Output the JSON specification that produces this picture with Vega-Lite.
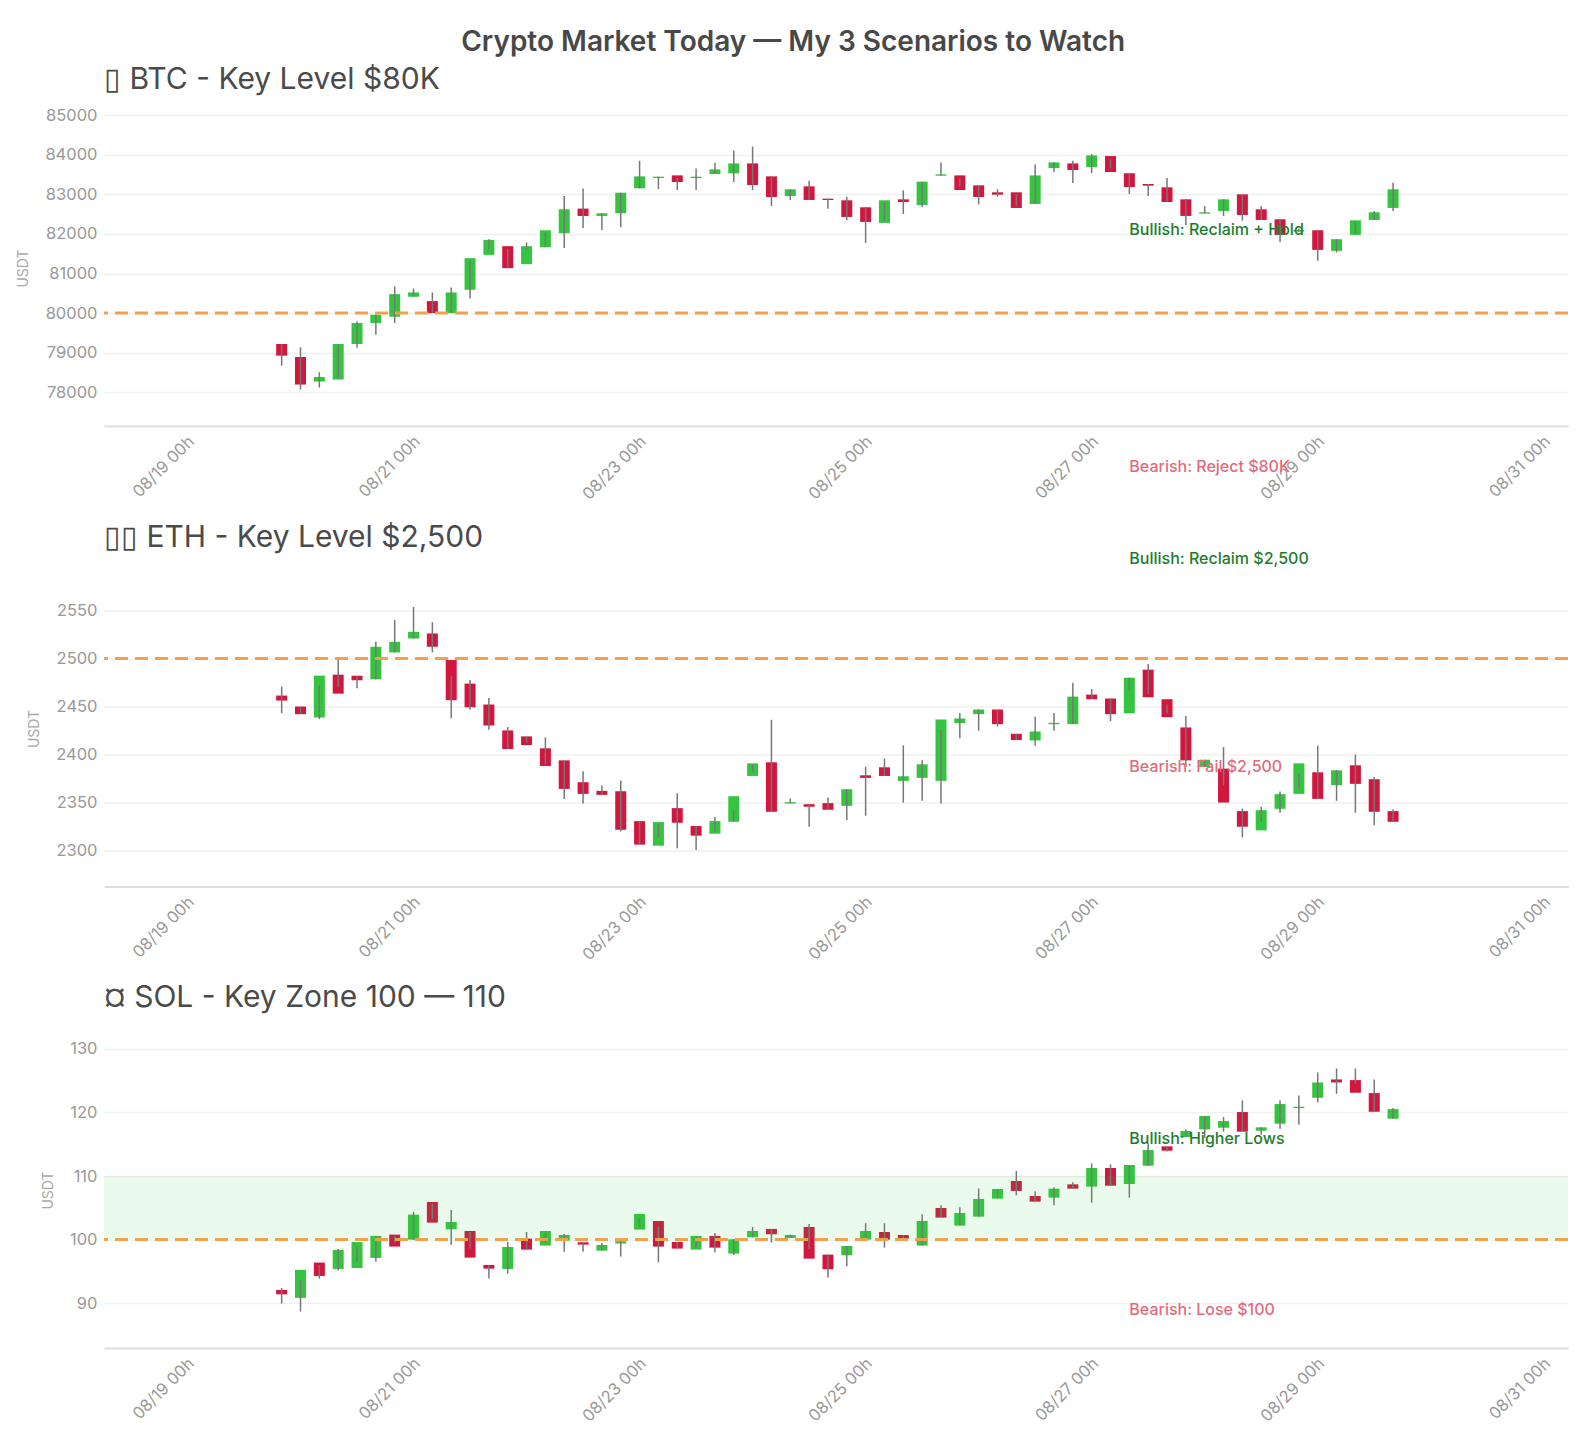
{
  "$schema": "https://vega.github.io/schema/vega-lite/v6.json",
  "padding": {"left": 16, "top": 29, "right": 8, "bottom": 5},
  "background": "white",
  "title": {"text": "Crypto Market Today — My 3 Scenarios to Watch", "fontSize": 28, "fontWeight": 600, "color": "#484848", "font": "Inter", "anchor": "middle", "frame": "bounds", "offset": 8},
  "config": {
    "view": {"stroke": null},
    "font": "Inter",
    "axis": {"labelFont": "Inter", "labelColor": "#999", "labelFontSize": 16.5, "titleFont": "Inter", "titleColor": "#aaa", "titleFontSize": 14, "titleFontWeight": "normal", "gridColor": "#f0f0f0", "gridWidth": 1.5, "domain": false, "ticks": false},
    "axisX": {"domain": true, "domainColor": "#ddd", "domainWidth": 2, "grid": false, "labelPadding": 7, "labelOffset": -11.5},
    "axisY": {"labelPadding": 7, "titlePadding": 14},
    "title": {"anchor": "start", "frame": "group", "fontSize": 30, "fontWeight": "normal", "color": "#4a4a4a", "font": "Inter", "offset": 12}
  },
  "datasets": {
    "btc": [
      {"t":"2025-08-19T18:00","o":79219,"h":79219,"l":78673,"c":78925},
      {"t":"2025-08-19T22:00","o":78891,"h":79135,"l":78068,"c":78194},
      {"t":"2025-08-20T02:00","o":78270,"h":78505,"l":78118,"c":78387},
      {"t":"2025-08-20T06:00","o":78320,"h":79200,"l":78340,"c":79219},
      {"t":"2025-08-20T10:00","o":79219,"h":79790,"l":79127,"c":79748},
      {"t":"2025-08-20T14:00","o":79748,"h":79959,"l":79454,"c":79959},
      {"t":"2025-08-20T18:00","o":79908,"h":80673,"l":79748,"c":80479},
      {"t":"2025-08-20T22:00","o":80412,"h":80622,"l":80412,"c":80521},
      {"t":"2025-08-21T02:00","o":80303,"h":80521,"l":80000,"c":80000},
      {"t":"2025-08-21T06:00","o":80000,"h":80647,"l":80000,"c":80521},
      {"t":"2025-08-21T10:00","o":80589,"h":81320,"l":80370,"c":81387},
      {"t":"2025-08-21T14:00","o":81471,"h":81866,"l":81614,"c":81849},
      {"t":"2025-08-21T18:00","o":81690,"h":81614,"l":81135,"c":81135},
      {"t":"2025-08-21T22:00","o":81236,"h":81782,"l":81597,"c":81690},
      {"t":"2025-08-22T02:00","o":81664,"h":82034,"l":81664,"c":82093},
      {"t":"2025-08-22T06:00","o":82017,"h":82958,"l":81647,"c":82622},
      {"t":"2025-08-22T10:00","o":82639,"h":83145,"l":82152,"c":82454},
      {"t":"2025-08-22T14:00","o":82454,"h":82521,"l":82101,"c":82521},
      {"t":"2025-08-22T18:00","o":82521,"h":83042,"l":82169,"c":83042},
      {"t":"2025-08-22T22:00","o":83152,"h":83849,"l":83152,"c":83454},
      {"t":"2025-08-23T02:00","o":83412,"h":83446,"l":83135,"c":83446},
      {"t":"2025-08-23T06:00","o":83479,"h":83412,"l":83110,"c":83311},
      {"t":"2025-08-23T10:00","o":83412,"h":83656,"l":83110,"c":83446},
      {"t":"2025-08-23T14:00","o":83513,"h":83799,"l":83513,"c":83631},
      {"t":"2025-08-23T18:00","o":83530,"h":84110,"l":83311,"c":83782},
      {"t":"2025-08-23T22:00","o":83782,"h":84210,"l":83110,"c":83236},
      {"t":"2025-08-24T02:00","o":83454,"h":83454,"l":82706,"c":82933},
      {"t":"2025-08-24T06:00","o":82958,"h":83127,"l":82858,"c":83127},
      {"t":"2025-08-24T10:00","o":83202,"h":83345,"l":82858,"c":82858},
      {"t":"2025-08-24T14:00","o":82891,"h":82891,"l":82639,"c":82858},
      {"t":"2025-08-24T18:00","o":82849,"h":82942,"l":82353,"c":82429},
      {"t":"2025-08-24T22:00","o":82673,"h":82673,"l":81774,"c":82303},
      {"t":"2025-08-25T02:00","o":82278,"h":82800,"l":82320,"c":82849},
      {"t":"2025-08-25T06:00","o":82874,"h":83101,"l":82505,"c":82807},
      {"t":"2025-08-25T10:00","o":82731,"h":83320,"l":82681,"c":83320},
      {"t":"2025-08-25T14:00","o":83471,"h":83807,"l":83471,"c":83505},
      {"t":"2025-08-25T18:00","o":83479,"h":83400,"l":83200,"c":83110},
      {"t":"2025-08-25T22:00","o":83227,"h":83227,"l":82748,"c":82933},
      {"t":"2025-08-26T02:00","o":83051,"h":83127,"l":82942,"c":82992},
      {"t":"2025-08-26T06:00","o":83051,"h":83000,"l":82700,"c":82656},
      {"t":"2025-08-26T10:00","o":82757,"h":83757,"l":82757,"c":83479},
      {"t":"2025-08-26T14:00","o":83664,"h":83807,"l":83563,"c":83807},
      {"t":"2025-08-26T18:00","o":83782,"h":83849,"l":83286,"c":83614},
      {"t":"2025-08-26T22:00","o":83690,"h":84017,"l":83538,"c":83984},
      {"t":"2025-08-27T02:00","o":83967,"h":83900,"l":83650,"c":83563},
      {"t":"2025-08-27T06:00","o":83530,"h":83530,"l":83009,"c":83185},
      {"t":"2025-08-27T10:00","o":83261,"h":83261,"l":82958,"c":83219},
      {"t":"2025-08-27T14:00","o":83177,"h":83412,"l":82807,"c":82807},
      {"t":"2025-08-27T18:00","o":82874,"h":82874,"l":82227,"c":82454},
      {"t":"2025-08-27T22:00","o":82513,"h":82706,"l":82513,"c":82547},
      {"t":"2025-08-28T02:00","o":82580,"h":82874,"l":82454,"c":82874},
      {"t":"2025-08-28T06:00","o":83000,"h":83000,"l":82336,"c":82479},
      {"t":"2025-08-28T10:00","o":82622,"h":82698,"l":82353,"c":82353},
      {"t":"2025-08-28T14:00","o":82370,"h":82370,"l":81799,"c":81975},
      {"t":"2025-08-28T18:00","o":82060,"h":82130,"l":82040,"c":82100},
      {"t":"2025-08-28T22:00","o":82093,"h":82093,"l":81320,"c":81597},
      {"t":"2025-08-29T02:00","o":81572,"h":81866,"l":81530,"c":81866},
      {"t":"2025-08-29T06:00","o":81975,"h":82300,"l":82000,"c":82345},
      {"t":"2025-08-29T10:00","o":82353,"h":82580,"l":82353,"c":82547},
      {"t":"2025-08-29T14:00","o":82656,"h":83294,"l":82580,"c":83127}
    ],
    "eth": [
      {"t":"2025-08-19T18:00","o":2461.4,"h":2470.7,"l":2443.1,"c":2456.2},
      {"t":"2025-08-19T22:00","o":2450,"h":2450,"l":2443,"c":2442.1},
      {"t":"2025-08-20T02:00","o":2438.6,"h":2472.4,"l":2436.9,"c":2482.1},
      {"t":"2025-08-20T06:00","o":2483.1,"h":2500.7,"l":2470,"c":2463.4},
      {"t":"2025-08-20T10:00","o":2482.1,"h":2482.1,"l":2469,"c":2477.2},
      {"t":"2025-08-20T14:00","o":2478.3,"h":2517.2,"l":2478.3,"c":2512.1},
      {"t":"2025-08-20T18:00","o":2506.2,"h":2540,"l":2506.2,"c":2517.2},
      {"t":"2025-08-20T22:00","o":2520.7,"h":2553.4,"l":2520.7,"c":2527.6},
      {"t":"2025-08-21T02:00","o":2525.9,"h":2537.6,"l":2506.2,"c":2512.1},
      {"t":"2025-08-21T06:00","o":2498.3,"h":2482.1,"l":2437.9,"c":2456.6},
      {"t":"2025-08-21T10:00","o":2473.8,"h":2477.6,"l":2446.6,"c":2449.3},
      {"t":"2025-08-21T14:00","o":2452.1,"h":2459,"l":2425.9,"c":2430.3},
      {"t":"2025-08-21T18:00","o":2425.2,"h":2428.6,"l":2405.9,"c":2405.9},
      {"t":"2025-08-21T22:00","o":2419,"h":2419,"l":2412,"c":2410},
      {"t":"2025-08-22T02:00","o":2406.6,"h":2417.9,"l":2390,"c":2388.3},
      {"t":"2025-08-22T06:00","o":2394.1,"h":2394,"l":2354.1,"c":2364.5},
      {"t":"2025-08-22T10:00","o":2371.4,"h":2382.8,"l":2349.3,"c":2359.3},
      {"t":"2025-08-22T14:00","o":2362.4,"h":2367.9,"l":2358.3,"c":2358.3},
      {"t":"2025-08-22T18:00","o":2362.1,"h":2373.1,"l":2320.3,"c":2322.1},
      {"t":"2025-08-22T22:00","o":2331,"h":2331,"l":2306.6,"c":2306.6},
      {"t":"2025-08-23T02:00","o":2305.5,"h":2328,"l":2314,"c":2330},
      {"t":"2025-08-23T06:00","o":2344.5,"h":2360,"l":2302.8,"c":2329.3},
      {"t":"2025-08-23T10:00","o":2325.9,"h":2325.9,"l":2301,"c":2315.9},
      {"t":"2025-08-23T14:00","o":2317.9,"h":2335.2,"l":2320,"c":2331},
      {"t":"2025-08-23T18:00","o":2330.3,"h":2342,"l":2330.3,"c":2356.9},
      {"t":"2025-08-23T22:00","o":2377.9,"h":2390,"l":2382,"c":2391},
      {"t":"2025-08-24T02:00","o":2392.1,"h":2436.2,"l":2340.7,"c":2340.7},
      {"t":"2025-08-24T06:00","o":2349.3,"h":2354.5,"l":2349.3,"c":2350.7},
      {"t":"2025-08-24T10:00","o":2348.6,"h":2348.6,"l":2325.2,"c":2345.9},
      {"t":"2025-08-24T14:00","o":2349.7,"h":2355.5,"l":2342.8,"c":2342.8},
      {"t":"2025-08-24T18:00","o":2346.9,"h":2364.1,"l":2332.1,"c":2364.1},
      {"t":"2025-08-24T22:00","o":2378.6,"h":2387.6,"l":2336.6,"c":2375.9},
      {"t":"2025-08-25T02:00","o":2386.9,"h":2395.9,"l":2377.9,"c":2377.9},
      {"t":"2025-08-25T06:00","o":2372.8,"h":2409.7,"l":2350.3,"c":2377.6},
      {"t":"2025-08-25T10:00","o":2375.9,"h":2394.1,"l":2352.1,"c":2390},
      {"t":"2025-08-25T14:00","o":2372.8,"h":2426.2,"l":2349.3,"c":2436.6},
      {"t":"2025-08-25T18:00","o":2432.8,"h":2443.4,"l":2417.2,"c":2437.6},
      {"t":"2025-08-25T22:00","o":2442.1,"h":2446.9,"l":2424.8,"c":2446.9},
      {"t":"2025-08-26T02:00","o":2446.9,"h":2446.9,"l":2429.3,"c":2431.7},
      {"t":"2025-08-26T06:00","o":2421.7,"h":2421.7,"l":2415.2,"c":2415.2},
      {"t":"2025-08-26T10:00","o":2414.8,"h":2439.3,"l":2409.3,"c":2424.1},
      {"t":"2025-08-26T14:00","o":2431.7,"h":2443.4,"l":2424.8,"c":2433.1},
      {"t":"2025-08-26T18:00","o":2431.7,"h":2474.8,"l":2432,"c":2460.3},
      {"t":"2025-08-26T22:00","o":2462.4,"h":2468.3,"l":2457.6,"c":2457.6},
      {"t":"2025-08-27T02:00","o":2458.3,"h":2458.3,"l":2434.8,"c":2442.1},
      {"t":"2025-08-27T06:00","o":2443.1,"h":2480,"l":2466,"c":2480},
      {"t":"2025-08-27T10:00","o":2488.3,"h":2494.1,"l":2463,"c":2459.7},
      {"t":"2025-08-27T14:00","o":2457.6,"h":2452,"l":2443,"c":2439},
      {"t":"2025-08-27T18:00","o":2428.3,"h":2440.3,"l":2387.2,"c":2394.1},
      {"t":"2025-08-27T22:00","o":2387.2,"h":2394.8,"l":2387.2,"c":2394.8},
      {"t":"2025-08-28T02:00","o":2385.5,"h":2407.9,"l":2368,"c":2350.3},
      {"t":"2025-08-28T06:00","o":2341.4,"h":2344.1,"l":2314.1,"c":2325.2},
      {"t":"2025-08-28T10:00","o":2321.4,"h":2345.9,"l":2330,"c":2342.4},
      {"t":"2025-08-28T14:00","o":2343.8,"h":2361.7,"l":2339.7,"c":2359},
      {"t":"2025-08-28T18:00","o":2359.3,"h":2380,"l":2365,"c":2391},
      {"t":"2025-08-28T22:00","o":2381.7,"h":2409.3,"l":2354.1,"c":2354.1},
      {"t":"2025-08-29T02:00","o":2368.3,"h":2383.8,"l":2352.1,"c":2383.8},
      {"t":"2025-08-29T06:00","o":2389,"h":2400.3,"l":2339.7,"c":2369.7},
      {"t":"2025-08-29T10:00","o":2374.5,"h":2376.9,"l":2326.6,"c":2340.7},
      {"t":"2025-08-29T14:00","o":2341.4,"h":2343.4,"l":2330.3,"c":2330.3}
    ],
    "sol": [
      {"t":"2025-08-19T18:00","o":92.1,"h":92.4,"l":89.95,"c":91.4},
      {"t":"2025-08-19T22:00","o":90.84,"h":93.6,"l":88.69,"c":95.24},
      {"t":"2025-08-20T02:00","o":96.39,"h":96,"l":93.87,"c":94.29},
      {"t":"2025-08-20T06:00","o":95.39,"h":98.53,"l":95.13,"c":98.38},
      {"t":"2025-08-20T10:00","o":95.55,"h":99,"l":96.5,"c":99.63},
      {"t":"2025-08-20T14:00","o":97.12,"h":100.58,"l":96.54,"c":100.58},
      {"t":"2025-08-20T18:00","o":100.79,"h":100.5,"l":99.5,"c":98.9},
      {"t":"2025-08-20T22:00","o":100,"h":104.35,"l":100,"c":103.93},
      {"t":"2025-08-21T02:00","o":105.92,"h":105.6,"l":103.2,"c":102.67},
      {"t":"2025-08-21T06:00","o":101.62,"h":104.66,"l":99.21,"c":102.77},
      {"t":"2025-08-21T10:00","o":101.36,"h":101.2,"l":98.6,"c":97.17},
      {"t":"2025-08-21T14:00","o":96.02,"h":96.02,"l":93.87,"c":95.44},
      {"t":"2025-08-21T18:00","o":95.39,"h":99.63,"l":94.66,"c":98.85},
      {"t":"2025-08-21T22:00","o":100.16,"h":101.2,"l":98.43,"c":98.43},
      {"t":"2025-08-22T02:00","o":99.06,"h":101,"l":99.5,"c":101.36},
      {"t":"2025-08-22T06:00","o":99.84,"h":100.89,"l":98.11,"c":100.73},
      {"t":"2025-08-22T10:00","o":99.58,"h":99.58,"l":98.11,"c":99.21},
      {"t":"2025-08-22T14:00","o":98.27,"h":99.48,"l":98.27,"c":99.16},
      {"t":"2025-08-22T18:00","o":99.37,"h":99.74,"l":97.33,"c":99.74},
      {"t":"2025-08-22T22:00","o":101.57,"h":103.5,"l":102,"c":104.03},
      {"t":"2025-08-23T02:00","o":102.93,"h":102,"l":96.44,"c":98.9},
      {"t":"2025-08-23T06:00","o":99.63,"h":99.63,"l":98.59,"c":98.59},
      {"t":"2025-08-23T10:00","o":98.43,"h":100.4,"l":98.8,"c":100.58},
      {"t":"2025-08-23T14:00","o":100.58,"h":101.05,"l":98.01,"c":98.74},
      {"t":"2025-08-23T18:00","o":97.8,"h":100.05,"l":97.59,"c":100.05},
      {"t":"2025-08-23T22:00","o":100.37,"h":101.99,"l":100.37,"c":101.36},
      {"t":"2025-08-24T02:00","o":101.68,"h":101.68,"l":99.53,"c":100.84},
      {"t":"2025-08-24T06:00","o":100.26,"h":100.8,"l":100.26,"c":100.73},
      {"t":"2025-08-24T10:00","o":101.99,"h":102.46,"l":98.5,"c":97.01},
      {"t":"2025-08-24T14:00","o":97.64,"h":97.64,"l":94.03,"c":95.34},
      {"t":"2025-08-24T18:00","o":97.54,"h":99,"l":95.81,"c":99},
      {"t":"2025-08-24T22:00","o":100,"h":102.57,"l":100,"c":101.36},
      {"t":"2025-08-25T02:00","o":101.2,"h":102.57,"l":98.74,"c":100},
      {"t":"2025-08-25T06:00","o":100.73,"h":100.73,"l":100.16,"c":100.16},
      {"t":"2025-08-25T10:00","o":99.06,"h":103.98,"l":99.06,"c":102.93},
      {"t":"2025-08-25T14:00","o":104.97,"h":105.39,"l":103.46,"c":103.46},
      {"t":"2025-08-25T18:00","o":102.2,"h":105.08,"l":102.2,"c":104.19},
      {"t":"2025-08-25T22:00","o":103.61,"h":108.06,"l":103.61,"c":106.39},
      {"t":"2025-08-26T02:00","o":106.44,"h":107.96,"l":106.44,"c":107.96},
      {"t":"2025-08-26T06:00","o":109.22,"h":110.79,"l":106.97,"c":107.65},
      {"t":"2025-08-26T10:00","o":106.86,"h":107.59,"l":105.97,"c":105.97},
      {"t":"2025-08-26T14:00","o":106.6,"h":108.22,"l":105.39,"c":108.01},
      {"t":"2025-08-26T18:00","o":108.69,"h":109.01,"l":108.01,"c":108.01},
      {"t":"2025-08-26T22:00","o":108.33,"h":111.99,"l":105.81,"c":111.26},
      {"t":"2025-08-27T02:00","o":111.26,"h":111.83,"l":108.48,"c":108.48},
      {"t":"2025-08-27T06:00","o":108.74,"h":111.73,"l":106.6,"c":111.73},
      {"t":"2025-08-27T10:00","o":111.62,"h":115.08,"l":111.62,"c":114.08},
      {"t":"2025-08-27T14:00","o":114.66,"h":114.66,"l":113.87,"c":113.98},
      {"t":"2025-08-27T18:00","o":116.13,"h":117.33,"l":116.13,"c":117.07},
      {"t":"2025-08-27T22:00","o":117.33,"h":119.43,"l":116.02,"c":119.43},
      {"t":"2025-08-28T02:00","o":117.59,"h":119.27,"l":116.97,"c":118.64},
      {"t":"2025-08-28T06:00","o":120.05,"h":121.89,"l":116.97,"c":116.97},
      {"t":"2025-08-28T10:00","o":117.12,"h":117.65,"l":116.49,"c":117.65},
      {"t":"2025-08-28T14:00","o":118.22,"h":121.89,"l":117.44,"c":121.31},
      {"t":"2025-08-28T18:00","o":120.68,"h":122.67,"l":118.06,"c":120.89},
      {"t":"2025-08-28T22:00","o":122.3,"h":126.28,"l":121.57,"c":124.71},
      {"t":"2025-08-29T02:00","o":125.18,"h":126.91,"l":122.93,"c":124.71},
      {"t":"2025-08-29T06:00","o":125.08,"h":126.91,"l":124.5,"c":123.09},
      {"t":"2025-08-29T10:00","o":123.04,"h":125.18,"l":120.1,"c":120.1},
      {"t":"2025-08-29T14:00","o":119.01,"h":120.68,"l":119.01,"c":120.52}
    ]
  },
  "spacing": 19.5,
  "vconcat": [
    {
      "title": {"text": "▯ BTC - Key Level $80K"},
      "width": 1464,
      "height": 316,
      "layer": [
        {
          "data": {"name": "btc"},
          "mark": {"type": "bar", "size": 11},
          "encoding": {
            "x": {"field": "t", "type": "temporal", "title": null,
              "scale": {"domain": [{"year": 2025, "month": 8, "date": 18, "hours": 5, "minutes": 20}, {"year": 2025, "month": 8, "date": 31, "hours": 2, "minutes": 5}]},
              "axis": {"format": "%m/%d %Hh", "labelAngle": -45, "values": [{"year": 2025, "month": 8, "date": 19}, {"year": 2025, "month": 8, "date": 21}, {"year": 2025, "month": 8, "date": 23}, {"year": 2025, "month": 8, "date": 25}, {"year": 2025, "month": 8, "date": 27}, {"year": 2025, "month": 8, "date": 29}, {"year": 2025, "month": 8, "date": 31}]}},
            "y": {"field": "o", "type": "quantitative", "title": "USDT", "scale": {"domain": [77147, 85131], "zero": false, "nice": false}, "axis": {"format": "d", "values": [78000, 79000, 80000, 81000, 82000, 83000, 84000, 85000]}},
            "y2": {"field": "c"},
            "color": {"condition": {"test": "datum.c >= datum.o", "value": "#35c43f"}, "value": "#d2163d"}
          }
        },
        {
          "data": {"name": "btc"},
          "mark": {"type": "rule", "color": "#777", "strokeWidth": 1.5},
          "encoding": {
            "x": {"field": "t", "type": "temporal"},
            "y": {"field": "l", "type": "quantitative", "title": "USDT"},
            "y2": {"field": "h"}
          }
        },
        {
          "data": {"values": [{"level": 80000}]},
          "mark": {"type": "rule", "color": "#f0a14e", "strokeWidth": 3, "strokeDash": [13, 7]},
          "encoding": {"y": {"field": "level", "type": "quantitative", "title": "USDT"}}
        },
        {
          "data": {"values": [
            {"t": "2025-08-27T06:00", "v": 82100, "label": "Bullish: Reclaim + Hold", "side": "bull"},
            {"t": "2025-08-27T06:00", "v": 76100, "label": "Bearish: Reject $80K", "side": "bear"}
          ]},
          "mark": {"type": "text", "align": "left", "baseline": "middle", "fontSize": 16, "fontWeight": 500, "font": "Inter"},
          "encoding": {
            "x": {"field": "t", "type": "temporal"},
            "y": {"field": "v", "type": "quantitative", "title": "USDT"},
            "text": {"field": "label"},
            "color": {"condition": {"test": "datum.side === 'bull'", "value": "#1c7d2d"}, "value": "#e36b7d"}
          }
        }
      ]
    },
    {
      "title": {"text": "▯▯ ETH - Key Level $2,500", "offset": -2},
      "width": 1464,
      "height": 316,
      "layer": [
        {
          "data": {"name": "eth"},
          "mark": {"type": "bar", "size": 11},
          "encoding": {
            "x": {"field": "t", "type": "temporal", "title": null,
              "scale": {"domain": [{"year": 2025, "month": 8, "date": 18, "hours": 5, "minutes": 20}, {"year": 2025, "month": 8, "date": 31, "hours": 2, "minutes": 5}]},
              "axis": {"format": "%m/%d %Hh", "labelAngle": -45, "values": [{"year": 2025, "month": 8, "date": 19}, {"year": 2025, "month": 8, "date": 21}, {"year": 2025, "month": 8, "date": 23}, {"year": 2025, "month": 8, "date": 25}, {"year": 2025, "month": 8, "date": 27}, {"year": 2025, "month": 8, "date": 29}, {"year": 2025, "month": 8, "date": 31}]}},
            "y": {"field": "o", "type": "quantitative", "title": "USDT", "scale": {"domain": [2263.1, 2591.3], "zero": false, "nice": false}, "axis": {"format": "d", "values": [2300, 2350, 2400, 2450, 2500, 2550]}},
            "y2": {"field": "c"},
            "color": {"condition": {"test": "datum.c >= datum.o", "value": "#35c43f"}, "value": "#d2163d"}
          }
        },
        {
          "data": {"name": "eth"},
          "mark": {"type": "rule", "color": "#777", "strokeWidth": 1.5},
          "encoding": {
            "x": {"field": "t", "type": "temporal"},
            "y": {"field": "l", "type": "quantitative", "title": "USDT"},
            "y2": {"field": "h"}
          }
        },
        {
          "data": {"values": [{"level": 2500}]},
          "mark": {"type": "rule", "color": "#f0a14e", "strokeWidth": 3, "strokeDash": [13, 7]},
          "encoding": {"y": {"field": "level", "type": "quantitative", "title": "USDT"}}
        },
        {
          "data": {"values": [
            {"t": "2025-08-27T06:00", "v": 2603, "label": "Bullish: Reclaim $2,500", "side": "bull"},
            {"t": "2025-08-27T06:00", "v": 2387, "label": "Bearish: Fail $2,500", "side": "bear"}
          ]},
          "mark": {"type": "text", "align": "left", "baseline": "middle", "fontSize": 16, "fontWeight": 500, "font": "Inter"},
          "encoding": {
            "x": {"field": "t", "type": "temporal"},
            "y": {"field": "v", "type": "quantitative", "title": "USDT"},
            "text": {"field": "label"},
            "color": {"condition": {"test": "datum.side === 'bull'", "value": "#1c7d2d"}, "value": "#e36b7d"}
          }
        }
      ]
    },
    {
      "title": {"text": "¤ SOL - Key Zone 100 — 110", "offset": 19},
      "width": 1464,
      "height": 316,
      "layer": [
        {
          "data": {"name": "sol"},
          "mark": {"type": "bar", "size": 11},
          "encoding": {
            "x": {"field": "t", "type": "temporal", "title": null,
              "scale": {"domain": [{"year": 2025, "month": 8, "date": 18, "hours": 5, "minutes": 20}, {"year": 2025, "month": 8, "date": 31, "hours": 2, "minutes": 5}]},
              "axis": {"format": "%m/%d %Hh", "labelAngle": -45, "values": [{"year": 2025, "month": 8, "date": 19}, {"year": 2025, "month": 8, "date": 21}, {"year": 2025, "month": 8, "date": 23}, {"year": 2025, "month": 8, "date": 25}, {"year": 2025, "month": 8, "date": 27}, {"year": 2025, "month": 8, "date": 29}, {"year": 2025, "month": 8, "date": 31}]}},
            "y": {"field": "o", "type": "quantitative", "title": "USDT", "scale": {"domain": [82.96, 132.64], "zero": false, "nice": false}, "axis": {"format": "d", "values": [90, 100, 110, 120, 130]}},
            "y2": {"field": "c"},
            "color": {"condition": {"test": "datum.c >= datum.o", "value": "#35c43f"}, "value": "#d2163d"}
          }
        },
        {
          "data": {"name": "sol"},
          "mark": {"type": "rule", "color": "#777", "strokeWidth": 1.5},
          "encoding": {
            "x": {"field": "t", "type": "temporal"},
            "y": {"field": "l", "type": "quantitative", "title": "USDT"},
            "y2": {"field": "h"}
          }
        },
        {
          "data": {"values": [{"lo": 100, "hi": 110}]},
          "mark": {"type": "rect", "color": "#2ecc40", "opacity": 0.1},
          "encoding": {"y": {"field": "lo", "type": "quantitative", "title": "USDT"}, "y2": {"field": "hi"}}
        },
        {
          "data": {"values": [{"level": 100}]},
          "mark": {"type": "rule", "color": "#f0a14e", "strokeWidth": 3, "strokeDash": [13, 7]},
          "encoding": {"y": {"field": "level", "type": "quantitative", "title": "USDT"}}
        },
        {
          "data": {"values": [
            {"t": "2025-08-27T06:00", "v": 115.8, "label": "Bullish: Higher Lows", "side": "bull"},
            {"t": "2025-08-27T06:00", "v": 88.9, "label": "Bearish: Lose $100", "side": "bear"}
          ]},
          "mark": {"type": "text", "align": "left", "baseline": "middle", "fontSize": 16, "fontWeight": 500, "font": "Inter"},
          "encoding": {
            "x": {"field": "t", "type": "temporal"},
            "y": {"field": "v", "type": "quantitative", "title": "USDT"},
            "text": {"field": "label"},
            "color": {"condition": {"test": "datum.side === 'bull'", "value": "#1c7d2d"}, "value": "#e36b7d"}
          }
        }
      ]
    }
  ]
}
